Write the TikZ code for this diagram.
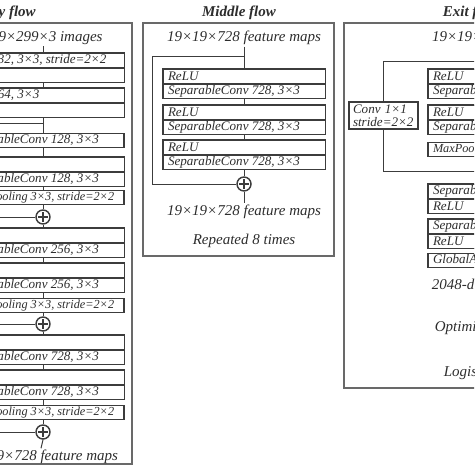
\documentclass[tikz,border=0pt]{standalone}
\usepackage{fontspec}
\setmainfont{Liberation Serif}

\definecolor{linec}{RGB}{60,60,60}
\definecolor{txtc}{RGB}{45,45,45}
\definecolor{panelc}{RGB}{105,105,105}

\newcommand{\boxfont}{\fontsize{9.8}{10.5}\selectfont\itshape}
\newcommand{\poolfont}{\fontsize{9.2}{10.5}\selectfont\itshape}
\newcommand{\labfont}{\fontsize{11.25}{13}\selectfont\itshape}
\newcommand{\titfont}{\fontsize{11.25}{13}\selectfont\bfseries\itshape}

\tikzset{every picture/.style={line width=0.75pt}}
\tikzset{
  rowbox/.style={draw=linec, line width=0.6pt, anchor=north, minimum width=121.5pt, inner xsep=3.75pt, inner ysep=0pt,
    minimum height=10.5pt, font=\boxfont, text=txtc,
    execute at begin node={\hbox to 114pt\bgroup}, execute at end node={\hss\egroup}},
  onebox/.style={rowbox, line width=1.1pt},
  poolbox/.style={onebox, font=\poolfont},
  frame/.style={draw=linec, line width=1.1pt},
  convbox/.style={draw=linec, line width=1.1pt, text width=45.75pt, inner xsep=3pt, inner ysep=0pt,
    minimum height=20.25pt, align=left, font=\fontsize{9.8}{9.6}\selectfont\itshape, text=txtc},
  conn/.style={draw=linec, line width=0.75pt},
  panel/.style={draw=panelc, line width=0.9pt},
  lab/.style={font=\labfont, text=txtc, inner sep=1pt},
  tit/.style={font=\titfont, text=txtc, inner sep=1pt},
  addop/.style={draw=linec, line width=1.1pt, circle, minimum size=10.5pt, inner sep=0pt,
    path picture={\draw[linec, line width=1pt] ([yshift=-1.6pt]path picture bounding box.north) -- ([yshift=1.6pt]path picture bounding box.south)
      ([xshift=1.6pt]path picture bounding box.west) -- ([xshift=-1.6pt]path picture bounding box.east);}},
}

\begin{document}
\begin{tikzpicture}[x=0.75pt,y=0.75pt,yscale=-1,xscale=1]
\useasboundingbox (0,0) rectangle (474,474);
\clip (0,0) rectangle (474,474);

%Panels
\draw[panel] (-120,23) rectangle (132,464);
\draw[panel] (143,23) rectangle (334,256);
\draw[panel] (344,23) rectangle (600,388);

%Titles
\node[tit] (titEntry) at (3,13) {Entry flow};
\node[tit] (titMid) at (239,13) {Middle flow};
\node[tit] (titExit) at (471,13) {Exit flow};

%Entry flow: input
\node[lab] (enIn) at (43,38) {299×299×3 images};
%Entry flow: boxes
\node[rowbox] (en1a) at (43,53) {Conv 32, 3×3, stride=2×2};
\node[rowbox] (en1b) at (en1a.south) {ReLU};
\draw[frame] (en1a.north west) rectangle (en1b.south east);
\node[rowbox] (en2a) at (43,88) {Conv 64, 3×3};
\node[rowbox] (en2b) at (en2a.south) {ReLU};
\draw[frame] (en2a.north west) rectangle (en2b.south east);
\node[onebox] (en3) at (43,133) {SeparableConv 128, 3×3};
\node[rowbox] (en4a) at (43,157) {ReLU};
\node[rowbox] (en4b) at (en4a.south) {SeparableConv 128, 3×3};
\draw[frame] (en4a.north west) rectangle (en4b.south east);
\node[poolbox] (en5) at (43,190) {MaxPooling 3×3, stride=2×2};
\node[addop] (enP1) at (43,217) {};
\node[rowbox] (en6a) at (43,228) {ReLU};
\node[rowbox] (en6b) at (en6a.south) {SeparableConv 256, 3×3};
\draw[frame] (en6a.north west) rectangle (en6b.south east);
\node[rowbox] (en7a) at (43,263) {ReLU};
\node[rowbox] (en7b) at (en7a.south) {SeparableConv 256, 3×3};
\draw[frame] (en7a.north west) rectangle (en7b.south east);
\node[poolbox] (en8) at (43,298) {MaxPooling 3×3, stride=2×2};
\node[addop] (enP2) at (43,324) {};
\node[rowbox] (en9a) at (43,335) {ReLU};
\node[rowbox] (en9b) at (en9a.south) {SeparableConv 728, 3×3};
\draw[frame] (en9a.north west) rectangle (en9b.south east);
\node[rowbox] (en10a) at (43,370) {ReLU};
\node[rowbox] (en10b) at (en10a.south) {SeparableConv 728, 3×3};
\draw[frame] (en10a.north west) rectangle (en10b.south east);
\node[poolbox] (en11) at (43,405) {MaxPooling 3×3, stride=2×2};
\node[addop] (enP3) at (43,432) {};
\node[lab] (enOut) at (41,457) {19×19×728 feature maps};
%Entry flow: main line
\draw[conn] (enIn.south) -- (en1a.north);
\draw[conn] (en1b.south) -- (en2a.north);
\draw[conn] (en2b.south) -- (en3.north);
\draw[conn] (en3.south) -- (en4a.north);
\draw[conn] (en4b.south) -- (en5.north);
\draw[conn] (en5.south) -- (enP1.north);
\draw[conn] (enP1.south) -- (en6a.north);
\draw[conn] (en6b.south) -- (en7a.north);
\draw[conn] (en7b.south) -- (en8.north);
\draw[conn] (en8.south) -- (enP2.north);
\draw[conn] (enP2.south) -- (en9a.north);
\draw[conn] (en9b.south) -- (en10a.north);
\draw[conn] (en10b.south) -- (en11.north);
\draw[conn] (en11.south) -- (enP3.north);
\draw[conn] (enP3.south) -- (enOut.north);
%Entry flow: shortcuts
\coordinate (enS1) at (43,124);
\coordinate (enS1l) at (-20,124);
\coordinate (enS2l) at (-20,217);
\coordinate (enS3l) at (-20,324);
\coordinate (enS4l) at (-20,432);
\draw[conn] (enS1) -- (enS1l);
\draw[conn] (enS2l) -- (enP1.west);
\draw[conn] (enS3l) -- (enP2.west);
\draw[conn] (enS4l) -- (enP3.west);

%Middle flow
\node[lab] (midIn) at (244,38) {19×19×728 feature maps};
\node[rowbox] (mid1a) at (244,69) {ReLU};
\node[rowbox] (mid1b) at (mid1a.south) {SeparableConv 728, 3×3};
\draw[frame] (mid1a.north west) rectangle (mid1b.south east);
\node[rowbox] (mid2a) at (244,105) {ReLU};
\node[rowbox] (mid2b) at (mid2a.south) {SeparableConv 728, 3×3};
\draw[frame] (mid2a.north west) rectangle (mid2b.south east);
\node[rowbox] (mid3a) at (244,140) {ReLU};
\node[rowbox] (mid3b) at (mid3a.south) {SeparableConv 728, 3×3};
\draw[frame] (mid3a.north west) rectangle (mid3b.south east);
\node[addop] (midP) at (244,184) {};
\node[lab] (midOut) at (244,212) {19×19×728 feature maps};
\node[lab] (midRep) at (244,241) {Repeated 8 times};
\draw[conn] (midIn.south) -- (mid1a.north);
\draw[conn] (mid1b.south) -- (mid2a.north);
\draw[conn] (mid2b.south) -- (mid3a.north);
\draw[conn] (mid3b.south) -- (midP.north);
\draw[conn] (midP.south) -- (midOut.north);
%Middle flow: shortcut
\coordinate (midS) at (244,57);
\coordinate (midSk) at (152,184);
\draw[conn] (midS) -| (midSk) -- (midP.west);

%Exit flow
\node[lab] (exIn) at (509,38) {19×19×728 feature maps};
\node[rowbox] (ex1a) at (509,69) {ReLU};
\node[rowbox] (ex1b) at (ex1a.south) {SeparableConv 728, 3×3};
\draw[frame] (ex1a.north west) rectangle (ex1b.south east);
\node[rowbox] (ex2a) at (509,105) {ReLU};
\node[rowbox] (ex2b) at (ex2a.south) {SeparableConv 1024, 3×3};
\draw[frame] (ex2a.north west) rectangle (ex2b.south east);
\node[poolbox] (ex3) at (509,142) {MaxPooling 3×3, stride=2×2};
\node[addop] (exP) at (509,171) {};
\node[rowbox] (ex4a) at (509,184) {SeparableConv 1536, 3×3};
\node[rowbox] (ex4b) at (ex4a.south) {ReLU};
\draw[frame] (ex4a.north west) rectangle (ex4b.south east);
\node[rowbox] (ex5a) at (509,219) {SeparableConv 2048, 3×3};
\node[rowbox] (ex5b) at (ex5a.south) {ReLU};
\draw[frame] (ex5a.north west) rectangle (ex5b.south east);
\node[onebox] (ex6) at (509,253) {GlobalAveragePooling};
\node[lab, anchor=west] (exVec) at (430,284) {2048-dimensional vectors};
\node[lab, anchor=west] (exOpt) at (433,328) {Optimized fully-connected layers};
\node[lab, anchor=west] (exLog) at (442,373) {Logistic regression};
\node[convbox] (exSkip) at (383.5,115.5) {Conv 1×1\\stride=2×2};
\draw[conn] (exIn.south) -- (ex1a.north);
\draw[conn] (ex1b.south) -- (ex2a.north);
\draw[conn] (ex2b.south) -- (ex3.north);
\draw[conn] (ex3.south) -- (exP.north);
\draw[conn] (exP.south) -- (ex4a.north);
\draw[conn] (ex4b.south) -- (ex5a.north);
\draw[conn] (ex5b.south) -- (ex6.north);
%Exit flow: shortcut
\coordinate (exS) at (509,62);
\draw[conn] (exS) -| (exSkip.north);
\draw[conn] (exSkip.south) |- (exP.west);

\end{tikzpicture}
\end{document}
